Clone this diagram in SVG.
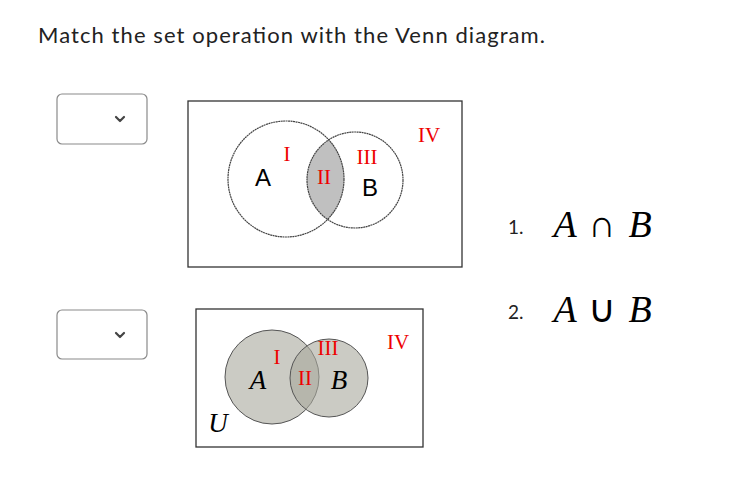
<svg xmlns="http://www.w3.org/2000/svg" width="737" height="499" viewBox="0 0 737 499">
<style>
.dd{fill:#fff;stroke:#8a8a8a;stroke-width:1.2}
.ch{fill:none;stroke:#444;stroke-width:2.2;stroke-linecap:round;stroke-linejoin:round}
.box{fill:#fff;stroke:#333;stroke-width:1.3}
.r{fill:#e00;font-family:'Liberation Serif',serif;font-size:21px;text-anchor:middle}
.s{font-family:'Liberation Sans',sans-serif;font-size:24px;text-anchor:middle}
.i{font-family:'Liberation Serif',serif;font-style:italic;font-size:27px;text-anchor:middle}
.l{font-family:Lato,sans-serif;fill:#222}
.f{font-family:'Liberation Serif',serif;font-size:38px;text-anchor:middle}
</style>
<rect width="737" height="499" fill="#fff"/>
<text x="38" y="43" class="l" font-size="22" textLength="507">Match the set operation with the Venn diagram.</text>
<g id="dropdown1"><rect class="dd" x="57" y="94" width="90" height="50" rx="5"/><path class="ch" d="M116 117l4 4 4-4"/></g>
<g id="dropdown2"><rect class="dd" x="57" y="310" width="90" height="49" rx="5"/><path class="ch" d="M116 333l4 4 4-4"/></g>
<g id="venn1">
<rect class="box" x="188" y="101" width="274" height="166"/>
<defs><clipPath id="ca"><circle cx="286" cy="179" r="58"/></clipPath></defs>
<circle cx="355" cy="180" r="48" fill="#c0c0c0" clip-path="url(#ca)"/>
<circle cx="286" cy="179" r="58" fill="none" stroke="#444" stroke-width="1.2" stroke-dasharray="2 0.5"/>
<circle cx="355" cy="180" r="48" fill="none" stroke="#444" stroke-width="1.2" stroke-dasharray="2 0.5"/>
<text class="r" x="287" y="161">I</text>
<text class="r" x="324" y="184">II</text>
<text class="r" x="367" y="164">III</text>
<text class="r" x="429" y="142">IV</text>
<text class="s" x="263" y="186">A</text>
<text class="s" x="370" y="196">B</text>
</g>
<g id="venn2">
<rect class="box" x="196" y="309" width="227" height="138"/>
<circle cx="272" cy="377" r="47" fill="#a8a89c" fill-opacity="0.6" stroke="#555" stroke-width="1"/>
<circle cx="329" cy="378" r="39" fill="#a8a89c" fill-opacity="0.6" stroke="#555" stroke-width="1"/>
<text class="r" x="277" y="364" font-size="18">I</text>
<text class="r" x="305" y="385" font-size="16">II</text>
<text class="r" x="328" y="355" font-size="17">III</text>
<text class="r" x="398" y="349">IV</text>
<text class="i" x="258" y="389">A</text>
<text class="i" x="339" y="389">B</text>
<text class="i" x="218" y="432">U</text>
</g>
<g id="options">
<text class="l" x="508" y="234" font-size="19">1.</text>
<text class="f" x="565" y="237" font-style="italic">A</text><text class="f" x="602" y="237" font-size="32">∩</text><text class="f" x="640" y="237" font-style="italic">B</text>
<text class="l" x="508" y="319" font-size="19">2.</text>
<text class="f" x="565" y="322" font-style="italic">A</text><text class="f" x="602" y="322" font-size="32">∪</text><text class="f" x="640" y="322" font-style="italic">B</text>
</g>
</svg>
